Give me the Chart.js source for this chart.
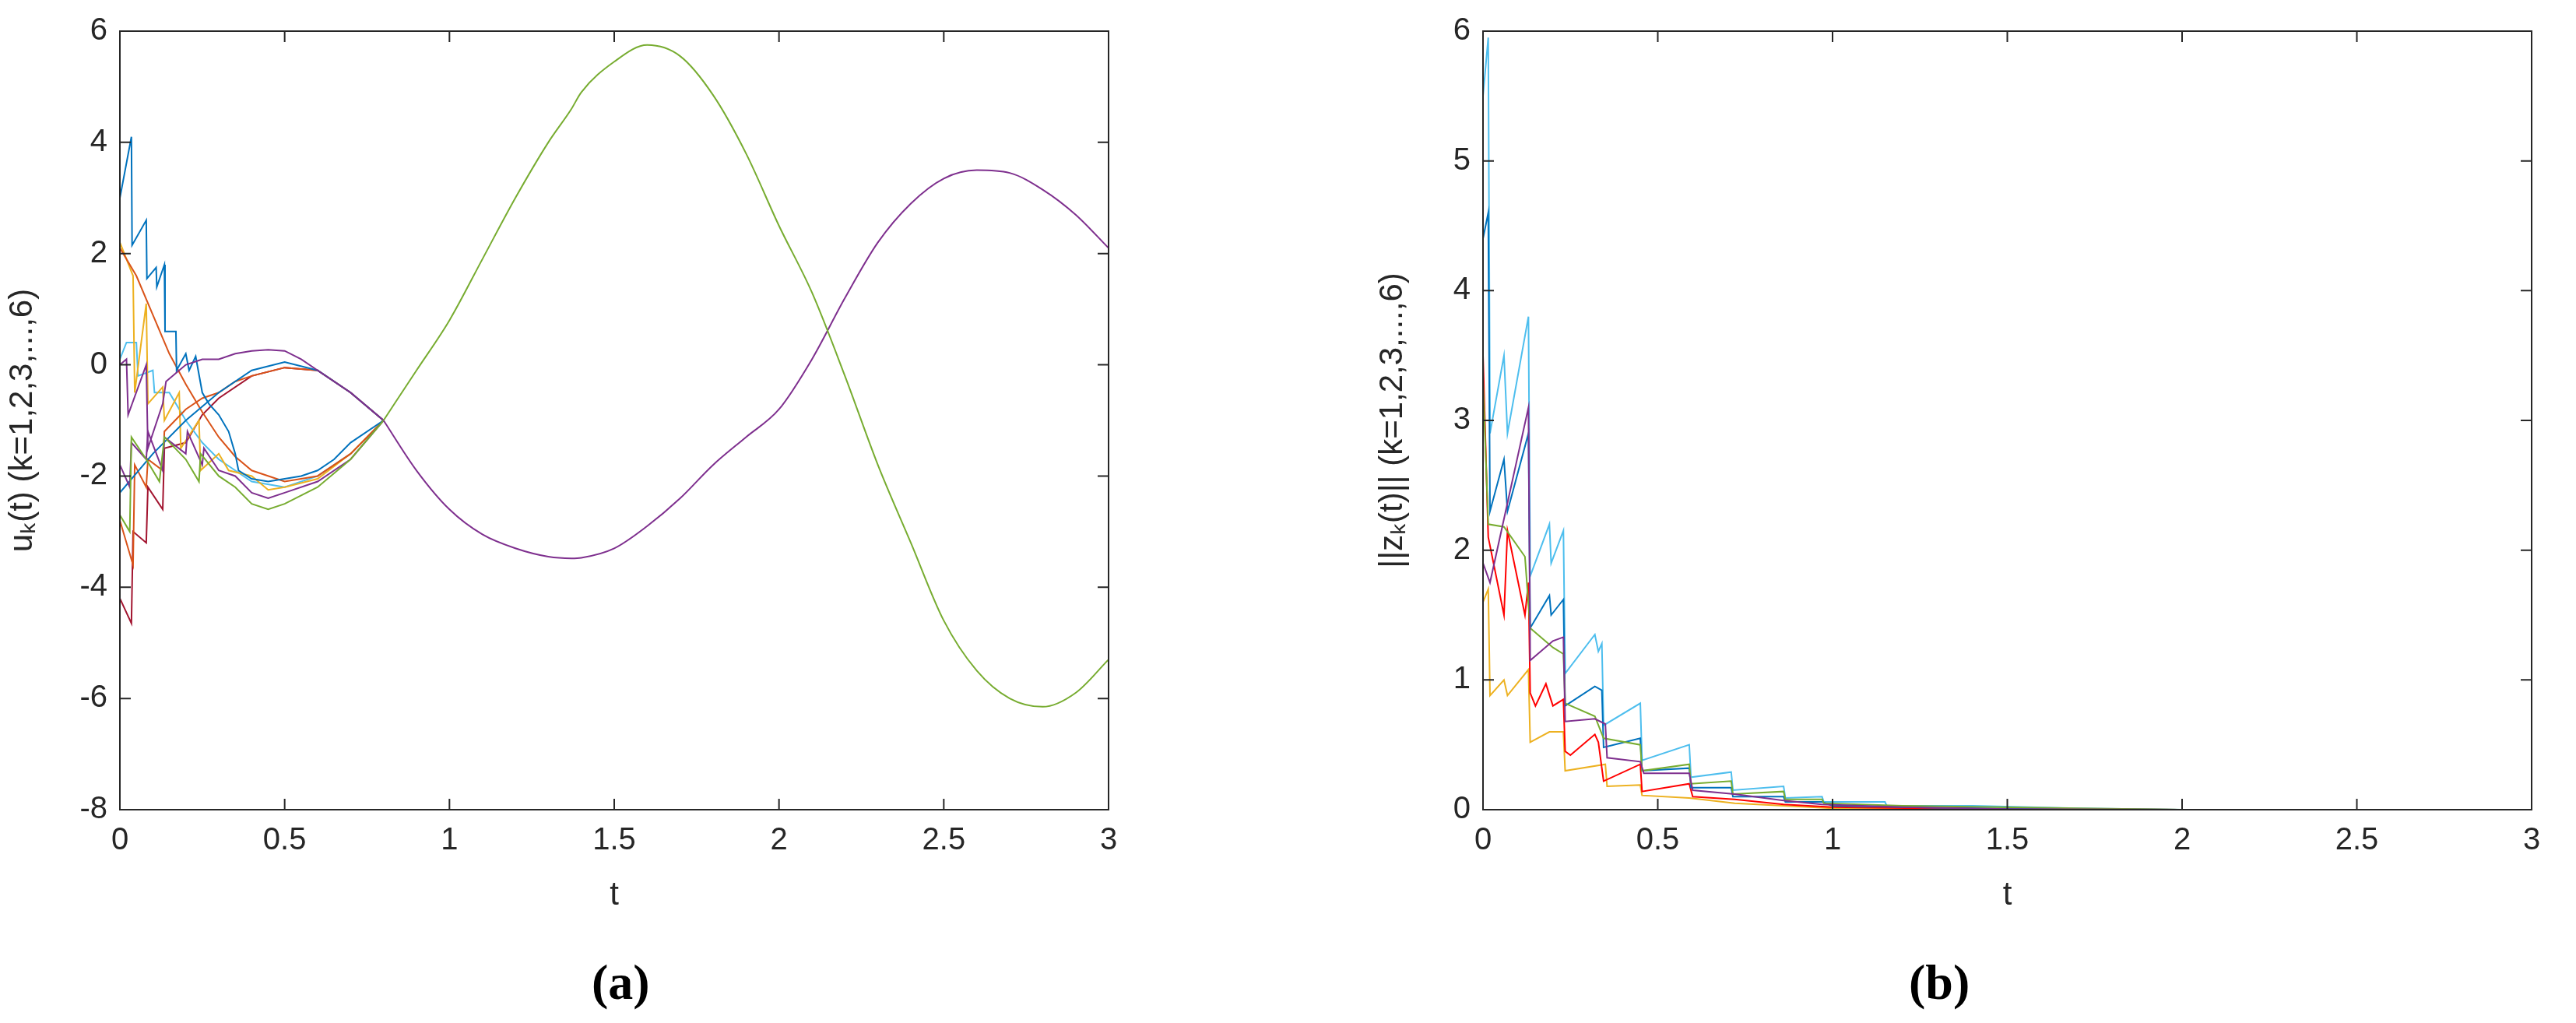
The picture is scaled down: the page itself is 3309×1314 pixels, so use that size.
<!DOCTYPE html>
<html><head><meta charset="utf-8">
<script src="https://cdn.jsdelivr.net/npm/chart.js@4"></script>
<style>
body{margin:0;background:#fff;width:3309px;height:1314px;position:relative;overflow:hidden;font-family:"Liberation Sans",Arial,sans-serif}
.c{position:absolute;top:0}
.lab{position:absolute;top:1225px;font:bold 64px "Liberation Serif",serif;color:#000}
</style></head><body>
<div class="c" style="left:0;width:1452px;height:1180px"><canvas id="a"></canvas></div>
<div class="c" style="left:1760px;width:1520px;height:1180px"><canvas id="b"></canvas></div>
<div class="lab" style="left:760px">(a)</div>
<div class="lab" style="left:2452px">(b)</div>
<script>
// converged tails, t = 0.8..3
const tailT = [0.8,0.9,1.0,1.1,1.2,1.3,1.37,1.4,1.5,1.6,1.7,1.8,1.9,2.0,2.1,2.2,2.3,2.4,2.5,2.6,2.7,2.8,2.9,3.0];
const tailA = [-1.0,-0.1,0.8,1.9,3.0,4.0,4.6,4.9,5.45,5.75,5.55,4.85,3.8,2.5,1.3,-0.2,-1.8,-3.2,-4.6,-5.5,-6.0,-6.15,-5.9,-5.3];
const tailB = [-1.0,-1.9,-2.6,-3.05,-3.3,-3.45,-3.48,-3.47,-3.3,-2.9,-2.4,-1.8,-1.3,-0.8,0.1,1.2,2.2,2.9,3.35,3.5,3.45,3.15,2.7,2.1];

// left panel, early transients (t <= 0.8)
const blue1T = [0,0.035,0.037,0.08,0.082,0.11,0.112,0.135,0.137,0.17,0.172,0.2,0.21,0.23,0.25,0.27,0.3,0.33,0.35,0.36,0.4,0.45,0.5,0.55,0.6,0.65,0.7,0.8];
const blue1Y = [3.0,4.1,2.15,2.6,1.55,1.75,1.4,1.8,0.6,0.6,-0.1,0.2,-0.1,0.15,-0.5,-0.7,-0.9,-1.2,-1.6,-1.9,-2.05,-2.1,-2.05,-2.0,-1.9,-1.7,-1.4,-1.0];
const blue2T = [0,0.1,0.2,0.3,0.4,0.5,0.6,0.7,0.8];
const blue2Y = [-2.3,-1.6,-1.0,-0.5,-0.1,0.05,-0.1,-0.5,-1.0];
const orangeT = [0,0.05,0.1,0.15,0.2,0.25,0.3,0.35,0.4,0.5,0.6,0.7,0.8];
const orangeY = [2.1,1.6,0.9,0.2,-0.35,-0.85,-1.3,-1.65,-1.9,-2.1,-2.0,-1.6,-1.0];
const orange2T = [0,0.04,0.045,0.08,0.085,0.13,0.135,0.2,0.25,0.3,0.35,0.4,0.5,0.6,0.7,0.8];
const orange2Y = [-2.8,-3.6,-1.8,-2.2,-1.7,-1.9,-1.2,-0.8,-0.6,-0.5,-0.3,-0.2,-0.05,-0.1,-0.5,-1.0];
const yellowT = [0,0.04,0.045,0.08,0.085,0.13,0.135,0.18,0.185,0.24,0.245,0.3,0.33,0.4,0.45,0.5,0.6,0.7,0.8];
const yellowY = [2.2,1.6,-0.5,1.1,-0.7,-0.4,-1.0,-0.5,-1.5,-1.0,-1.9,-1.6,-1.9,-2.0,-2.25,-2.2,-2.05,-1.6,-1.0];
const purple1T = [0,0.02,0.025,0.08,0.085,0.13,0.14,0.2,0.25,0.3,0.35,0.4,0.45,0.5,0.55,0.6,0.7,0.8];
const purple1Y = [0,0.1,-0.9,0.0,-1.5,-0.7,-0.3,0.0,0.1,0.1,0.2,0.25,0.27,0.25,0.1,-0.1,-0.5,-1.0];
const purple2T = [0,0.03,0.035,0.08,0.085,0.13,0.135,0.2,0.205,0.25,0.255,0.3,0.35,0.4,0.45,0.5,0.6,0.7,0.8];
const purple2Y = [-1.8,-2.2,-1.4,-1.7,-1.2,-1.9,-1.3,-1.6,-1.2,-1.8,-1.5,-1.9,-2.0,-2.3,-2.4,-2.3,-2.1,-1.7,-1.0];
const greenT = [0,0.03,0.035,0.08,0.12,0.135,0.2,0.24,0.245,0.3,0.35,0.4,0.45,0.5,0.6,0.7,0.8];
const greenY = [-2.7,-3.0,-1.3,-1.7,-2.1,-1.3,-1.7,-2.1,-1.6,-2.0,-2.2,-2.5,-2.6,-2.5,-2.2,-1.7,-1.0];
const cyanT = [0,0.02,0.05,0.055,0.1,0.105,0.15,0.2,0.25,0.3,0.4,0.5,0.6,0.7,0.8];
const cyanY = [0.1,0.4,0.4,-0.2,-0.1,-0.5,-0.5,-1.0,-1.4,-1.7,-2.1,-2.2,-2.0,-1.6,-1.0];
const darkRedT = [0,0.035,0.04,0.08,0.085,0.13,0.135,0.2,0.25,0.3,0.4,0.5,0.6,0.7,0.8];
const darkRedY = [-4.2,-4.65,-3.0,-3.2,-2.2,-2.6,-1.5,-1.4,-0.9,-0.6,-0.2,-0.05,-0.1,-0.5,-1.0];

// right panel ||z_k(t)||
const zCyanT = [0,0.015,0.02,0.06,0.07,0.13,0.135,0.19,0.195,0.23,0.235,0.32,0.33,0.34,0.345,0.45,0.455,0.59,0.595,0.71,0.715,0.86,0.865,0.97,0.975,1.15,1.155,1.4,1.7,2,3];
const zCyanY = [5.5,5.95,2.9,3.5,2.9,3.8,1.8,2.2,1.9,2.15,1.05,1.35,1.22,1.28,0.65,0.82,0.38,0.5,0.25,0.29,0.15,0.18,0.09,0.1,0.06,0.06,0.03,0.03,0.01,0,0];
const zBlueT = [0,0.015,0.02,0.06,0.07,0.13,0.135,0.19,0.195,0.23,0.235,0.32,0.34,0.345,0.45,0.455,0.59,0.595,0.71,0.715,0.86,0.865,0.97,1.0,1.3,1.6,2,3];
const zBlueY = [4.4,4.6,2.3,2.7,2.3,2.9,1.4,1.65,1.5,1.62,0.8,0.95,0.92,0.48,0.55,0.3,0.32,0.17,0.17,0.1,0.1,0.06,0.06,0.03,0.015,0.005,0,0];
const zPurpleT = [0,0.02,0.13,0.135,0.2,0.23,0.235,0.32,0.35,0.355,0.45,0.46,0.59,0.6,0.72,0.86,0.97,1.2,1.5,2,3];
const zPurpleY = [1.9,1.75,3.1,1.15,1.3,1.33,0.68,0.7,0.66,0.4,0.37,0.28,0.28,0.15,0.12,0.07,0.04,0.02,0.005,0,0];
const zGreenT = [0,0.015,0.06,0.12,0.135,0.2,0.23,0.235,0.32,0.345,0.45,0.455,0.59,0.595,0.71,0.715,0.86,0.865,0.97,0.975,1.2,1.7,2,3];
const zGreenY = [3.3,2.2,2.18,1.95,1.4,1.25,1.2,0.82,0.72,0.55,0.5,0.3,0.35,0.2,0.22,0.12,0.14,0.08,0.08,0.05,0.03,0.01,0,0];
const zRedT = [0,0.015,0.06,0.07,0.12,0.13,0.135,0.15,0.18,0.2,0.23,0.235,0.25,0.32,0.33,0.345,0.45,0.455,0.59,0.6,0.72,0.86,1.0,1.4,2,3];
const zRedY = [3.5,2.1,1.5,2.15,1.5,1.75,0.9,0.8,0.97,0.8,0.85,0.45,0.42,0.58,0.52,0.22,0.35,0.14,0.2,0.1,0.08,0.04,0.02,0.005,0,0];
const zYellowT = [0,0.015,0.02,0.06,0.07,0.13,0.135,0.19,0.23,0.235,0.35,0.355,0.45,0.455,0.59,0.72,0.86,1.0,2,3];
const zYellowY = [1.6,1.7,0.88,1.0,0.88,1.08,0.52,0.6,0.6,0.3,0.35,0.18,0.19,0.11,0.09,0.05,0.03,0.01,0,0];

const xTicks = [0,0.5,1,1.5,2,2.5,3];

function pts(ts, ys) {
  return ts.map((t, i) => ({ x: t, y: ys[i] }));
}

function ds(color, ts, ys, tension = 0) {
  return { data: pts(ts, ys), borderColor: color, borderWidth: 2, pointRadius: 0, tension, cubicInterpolationMode: tension ? "monotone" : "default", fill: false };
}

// box + inward ticks like MATLAB
const framePlugin = {
  id: "frame",
  afterDraw(chart) {
    const { ctx, chartArea: a, scales } = chart;
    ctx.save();
    ctx.strokeStyle = "#262626";
    ctx.lineWidth = 2;
    ctx.strokeRect(a.left, a.top, a.right - a.left, a.bottom - a.top);
    ctx.beginPath();
    for (const t of scales.x.ticks) {
      const px = scales.x.getPixelForValue(t.value);
      ctx.moveTo(px, a.bottom); ctx.lineTo(px, a.bottom - 14);
      ctx.moveTo(px, a.top); ctx.lineTo(px, a.top + 14);
    }
    for (const t of scales.y.ticks) {
      const py = scales.y.getPixelForValue(t.value);
      ctx.moveTo(a.left, py); ctx.lineTo(a.left + 14, py);
      ctx.moveTo(a.right, py); ctx.lineTo(a.right - 14, py);
    }
    ctx.stroke();
    ctx.restore();
  },
};

function buildChart(canvas, datasets, yMin, yMax, yStep, yTitle, yWidth) {
  return new Chart(canvas, {
    type: "line",
    data: { datasets },
    plugins: [framePlugin],
    options: {
      responsive: true,
      maintainAspectRatio: false,
      animation: false,
      layout: { padding: { top: 36, right: 28, left: 0, bottom: 0 } },
      plugins: { legend: { display: false }, tooltip: { enabled: false } },
      scales: {
        x: {
          type: "linear", min: 0, max: 3,
          afterBuildTicks: (s) => { s.ticks = xTicks.map((v) => ({ value: v })); },
          afterFit: (s) => { s.height = 140; },
          grid: { display: false, drawTicks: false },
          border: { display: false },
          ticks: { callback: (v) => String(v), color: "#262626", padding: 16, font: { size: 40, family: "Liberation Sans" } },
          title: { display: true, text: "t", color: "#262626", padding: { top: 0 }, font: { size: 42, family: "Liberation Sans" } },
        },
        y: {
          min: yMin, max: yMax,
          afterFit: (s) => { s.width = yWidth; },
          grid: { display: false, drawTicks: false },
          border: { display: false },
          ticks: { stepSize: yStep, callback: (v) => String(v), color: "#262626", padding: 16, font: { size: 40, family: "Liberation Sans" } },
          title: { display: true, text: yTitle, color: "#262626", font: { size: 42, family: "Liberation Sans" } },
        },
      },
    },
  });
}

buildChart(document.getElementById("a"), [
  ds("#77AC30", tailT, tailA, 0.4),
  ds("#7E2F8E", tailT, tailB, 0.4),
  ds("#77AC30", greenT, greenY),
  ds("#7E2F8E", purple1T, purple1Y),
  ds("#7E2F8E", purple2T, purple2Y),
  ds("#0072BD", blue1T, blue1Y),
  ds("#0072BD", blue2T, blue2Y),
  ds("#D95319", orangeT, orangeY),
  ds("#D95319", orange2T, orange2Y),
  ds("#EDB120", yellowT, yellowY),
  ds("#4DBEEE", cyanT, cyanY),
  ds("#A2142F", darkRedT, darkRedY),
], -8, 6, 2, "uₖ(t) (k=1,2,3,...,6)", 154);

buildChart(document.getElementById("b"), [
  ds("#7E2F8E", zPurpleT, zPurpleY),
  ds("#77AC30", zGreenT, zGreenY),
  ds("#0072BD", zBlueT, zBlueY),
  ds("#FF0000", zRedT, zRedY),
  ds("#EDB120", zYellowT, zYellowY),
  ds("#4DBEEE", zCyanT, zCyanY),
], 0, 6, 1, "||zₖ(t)|| (k=1,2,3,...,6)", 145);
</script>
</body></html>
